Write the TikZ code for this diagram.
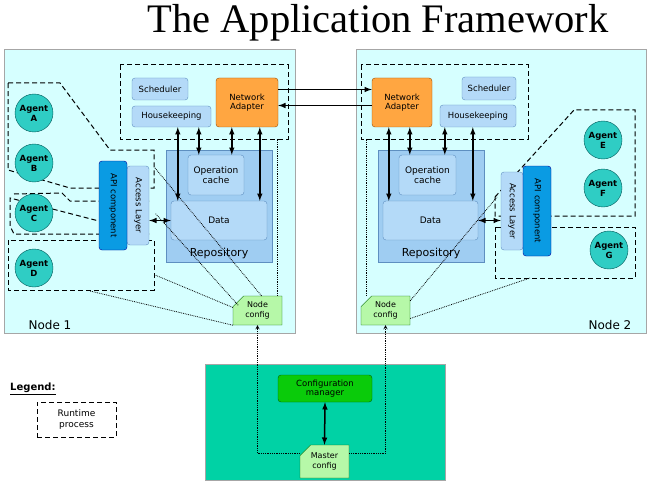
\documentclass[tikz,border=0pt]{standalone}
\usepackage{fontspec}
\setmainfont{DejaVu Sans}
\newfontfamily\titlefont{Liberation Serif}
\usetikzlibrary{shapes.misc}
\definecolor{nodebg}{HTML}{D6FFFF}
\definecolor{boxblue}{HTML}{B4DAF8}
\definecolor{repoblue}{HTML}{9FCDF2}
\definecolor{edgeblue}{HTML}{5E8FC0}
\definecolor{naorange}{HTML}{FFA641}
\definecolor{apiblue}{HTML}{0A9BE3}
\definecolor{agentteal}{HTML}{2FCDC4}
\definecolor{cfggreen}{HTML}{B6F8A8}
\definecolor{cmgreen}{HTML}{0ACB0A}
\definecolor{basegreen}{HTML}{00D2A5}
\tikzset{
  hostbox/.style={draw=gray!70, fill=nodebg, inner sep=0pt},
  part/.style={rectangle, rounded corners=3pt, draw=edgeblue, fill=boxblue, inner sep=0pt, font=\fontsize{8.5}{9.5}\selectfont, align=center},
  agent/.style={circle, minimum size=38pt, inner sep=0pt, draw=teal!70!black, fill=agentteal, font=\fontsize{8.5}{10}\selectfont\bfseries, align=center},
  cfg/.style={chamfered rectangle, chamfered rectangle corners=north west, chamfered rectangle xsep=7pt, draw=green!40!black, fill=cfggreen, inner sep=0pt, font=\fontsize{8}{9.5}\selectfont, align=center},
  proc/.style={dashed, line width=1pt, dash pattern=on 5pt off 3pt},
  link/.style={densely dotted, line width=0.8pt},
  dbl/.style={line width=1.5pt, <->, >=latex},
  one/.style={line width=1.5pt, ->, >=latex},
}
\begin{document}
\begin{tikzpicture}[x=1pt, y=-1pt, every node/.style={inner sep=0pt}]
\useasboundingbox (0,0) rectangle (650,484);
\node (title) [font=\titlefont\fontsize{40.5}{40}\selectfont] at (378,23) {The Application Framework};
% hosts
\node (host1) [hostbox, minimum width=291pt, minimum height=284pt] at (149.5,191) {};
\node (host2) [hostbox, minimum width=290pt, minimum height=284pt] at (501,191) {};
\node (base) [draw=gray!70, fill=basegreen, minimum width=240pt, minimum height=116pt] at (325,422) {};
\node (n1) [font=\fontsize{12}{12}\selectfont] at (50,325) {Node 1};
\node (n2) [font=\fontsize{12}{12}\selectfont] at (610,325) {Node 2};
% runtime processes
\draw [proc] (120,65) rectangle (288,139);
\draw [proc] (361,65) rectangle (528,139);
\draw [proc] (8,83) -- (60,83) -- (110,150) -- (154,150) -- (154,188) -- (70,188) -- (8,170) -- cycle;
\draw [proc] (14,194) -- (62,193) -- (70,201) -- (149,201) (149,234) -- (14,234) -- (10,226) -- (10,198) -- cycle;
\draw [proc] (8,240) rectangle (154,290);
\draw [proc] (495,197) -- (574,110) -- (635,110) -- (635,216) -- (495,216) -- cycle;
\draw [proc] (495,227) rectangle (635,278);
% node 1 parts
\node (sched1) [part, minimum width=56pt, minimum height=22pt] at (160,89) {Scheduler};
\node (hk1) [part, minimum width=79pt, minimum height=21pt] at (171.5,116.5) {Housekeeping};
\node (na1) [part, fill=naorange, draw=orange!60!black, minimum width=62pt, minimum height=49pt] at (247,102.5) {Network\\Adapter};
\node (repo1) [part, rounded corners=0pt, fill=repoblue, minimum width=106pt, minimum height=112pt, label={[font=\fontsize{11}{11}\selectfont, anchor=south, yshift=3pt]south:Repository}] at (219,206) {};
\node (op1) [part, minimum width=56pt, minimum height=40pt, font=\fontsize{9}{10.5}\selectfont] at (216,175) {Operation\\cache};
\node (data1) [part, minimum width=96pt, minimum height=39pt, font=\fontsize{9}{10}\selectfont] at (219,220.5) {Data};
\node (al1) [part, minimum width=22pt, minimum height=79pt] at (138,205.5) {\rotatebox{-90}{Access Layer}};
\node (api1) [part, fill=apiblue, draw=blue!60!black, minimum width=28pt, minimum height=89pt] at (113,205.5) {\rotatebox{-90}{API component}};
\node (agA) [agent] at (34,113) {Agent\\A};
\node (agB) [agent] at (34,163) {Agent\\B};
\node (agC) [agent] at (34,213) {Agent\\C};
\node (agD) [agent] at (34,268) {Agent\\D};
\node (cfg1) [cfg, minimum width=49pt, minimum height=29pt] at (257.5,310.5) {Node\\config};
% node 2 parts
\node (sched2) [part, minimum width=54pt, minimum height=23pt] at (489,88.5) {Scheduler};
\node (hk2) [part, minimum width=76pt, minimum height=22pt] at (478,116) {Housekeeping};
\node (na2) [part, fill=naorange, draw=orange!60!black, minimum width=60pt, minimum height=49pt] at (402,102.5) {Network\\Adapter};
\node (repo2) [part, rounded corners=0pt, fill=repoblue, minimum width=106pt, minimum height=112pt, label={[font=\fontsize{11}{11}\selectfont, anchor=south, yshift=3pt]south:Repository}] at (431,206) {};
\node (op2) [part, minimum width=57pt, minimum height=40pt, font=\fontsize{9}{10.5}\selectfont] at (427.5,175) {Operation\\cache};
\node (data2) [part, minimum width=95pt, minimum height=39pt, font=\fontsize{9}{10}\selectfont] at (430.5,220.5) {Data};
\node (al2) [part, minimum width=22pt, minimum height=78pt] at (512,211) {\rotatebox{-90}{Access Layer}};
\node (api2) [part, fill=apiblue, draw=blue!60!black, minimum width=28pt, minimum height=90pt] at (537,211) {\rotatebox{-90}{API component}};
\node (agE) [agent] at (603,140) {Agent\\E};
\node (agF) [agent] at (603,188) {Agent\\F};
\node (agG) [agent] at (609,250) {Agent\\G};
\node (cfg2) [cfg, minimum width=49pt, minimum height=29pt] at (385.5,310.5) {Node\\config};
% configuration site
\node (cm) [part, fill=cmgreen, draw=green!40!black, minimum width=94pt, minimum height=27pt] at (325,388.5) {Configuration\\manager};
\node (mc) [cfg, minimum width=49pt, minimum height=33pt] at (324.5,461.5) {Master\\config};
\node (legend) [font=\fontsize{10}{10}\selectfont\bfseries, anchor=west] at (10,389) {\underline{Legend:}};
\node (rt) [draw, proc, line width=0.8pt, minimum width=79pt, minimum height=35pt, align=center, font=\fontsize{9}{10.5}\selectfont] at (76.5,419.5) {Runtime\\process};
% repository access
\draw [dbl] ([xshift=46pt]hk1.south west) -- ([xshift=46pt]hk1.south west |- data1.north);
\draw [dbl] ([xshift=67pt]hk1.south west) -- ([xshift=67pt]hk1.south west |- op1.north);
\draw [dbl] ([xshift=16pt]na1.south west) -- ([xshift=16pt]na1.south west |- op1.north);
\draw [dbl] ([xshift=44pt]na1.south west) -- ([xshift=44pt]na1.south west |- data1.north);
\draw [dbl] ([xshift=17pt]na2.south west) -- ([xshift=17pt]na2.south west |- data2.north);
\draw [dbl] ([xshift=38pt]na2.south west) -- ([xshift=38pt]na2.south west |- op2.north);
\draw [dbl] ([xshift=5pt]hk2.south west) -- ([xshift=5pt]hk2.south west |- op2.north);
\draw [dbl] ([xshift=33pt]hk2.south west) -- ([xshift=33pt]hk2.south west |- data2.north);
\draw [dbl] (al1.east |- data1.west) -- (data1.west);
\draw [dbl] (data2.east) -- (al2.west |- data2.east);
\draw [dbl] (cm.south) -- (mc.north);
% network
\draw [one] ([yshift=13pt]na1.east) -- ([yshift=13pt]na2.west);
\draw [one] ([yshift=-3pt]na2.west) -- ([yshift=-3pt]na1.east);
% configuration links
\coordinate (top1) at (277,139);
\coordinate (ab1) at (155,168);
\coordinate (c1) at (155,213);
\coordinate (d1) at (155,275);
\coordinate (d1b) at (90,291);
\draw [link] (cfg1.north -| top1) -- (top1);
\draw [link] ([xshift=4pt]cfg1.north) -- (ab1);
\draw [link] ([yshift=-4pt]cfg1.north west) -- (c1);
\draw [link] ([yshift=3pt]cfg1.west) -- (d1);
\draw [link] (cfg1.south west) -- (d1b);
\coordinate (top2) at (366,139);
\coordinate (ef2) at (497,197);
\coordinate (g2) at (530,278);
\draw [link] (cfg2.north -| top2) -- (top2);
\draw [link] ([yshift=-5pt]cfg2.north east) -- (ef2);
\draw [link] ([yshift=-8pt]cfg2.east) -- (g2);
\draw [link, ->, >=stealth] ([yshift=8pt]mc.west) -| (cfg1.south);
\draw [link, ->, >=stealth] ([yshift=8pt]mc.east) -| (cfg2.south);
\end{tikzpicture}
\end{document}
